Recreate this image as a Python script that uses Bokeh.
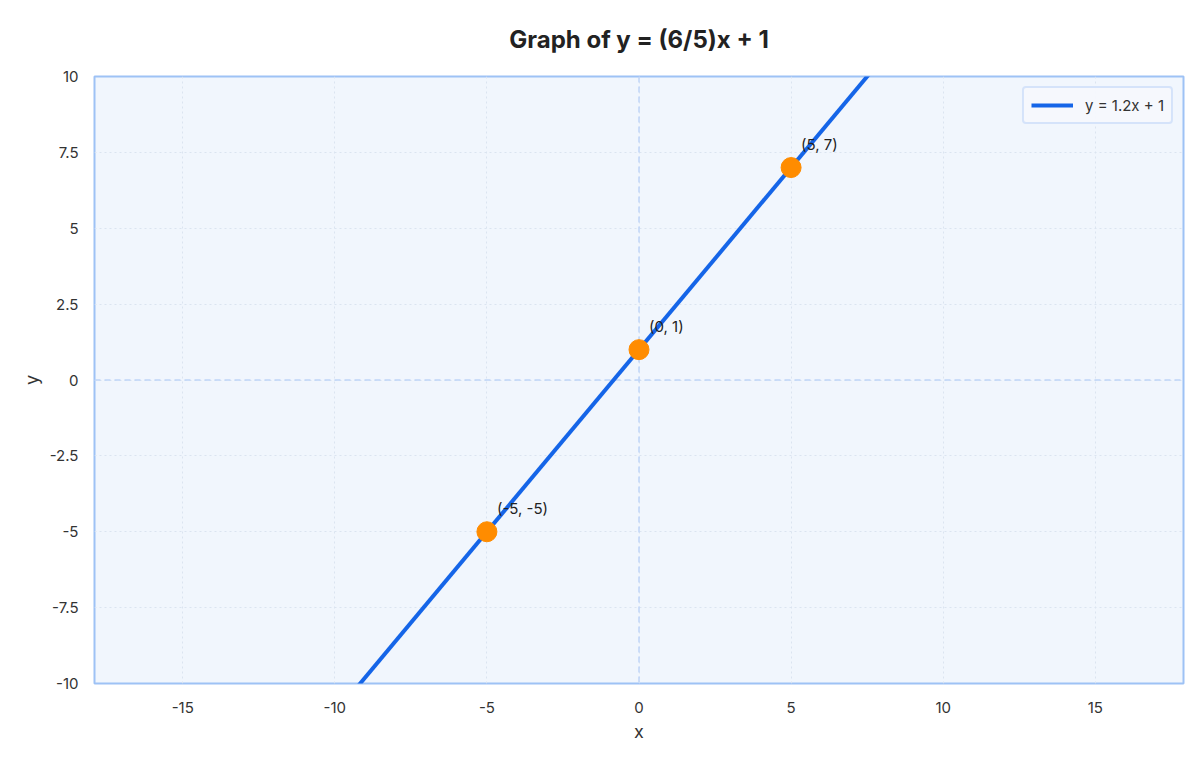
from bokeh.plotting import figure
from bokeh.models import FixedTicker, Range1d, Span, ColumnDataSource, Legend, LegendItem
from bokeh.core.properties import value
from bokeh.embed import file_html
from bokeh.resources import INLINE

title_text = "Graph of y = (6/5)x + 1"
line_label = "y = 1.2x + 1"
slope = 6 / 5
intercept = 1
line_x = [-18, 18]
line_y = [slope * v + intercept for v in line_x]
pt_x = [-5, 0, 5]
pt_y = [-5, 1, 7]
pt_labels = ["(-5, -5)", "(0, 1)", "(5, 7)"]
x_ticks = [-15, -10, -5, 0, 5, 10, 15]
x_tick_labels = ["-15", "-10", "-5", "0", "5", "10", "15"]
y_ticks = [-10, -7.5, -5, -2.5, 0, 2.5, 5, 7.5, 10]
y_tick_labels = ["-10", "-7.5", "-5", "-2.5", "0", "2.5", "5", "7.5", "10"]

FONT = "Inter"

p = figure(width=1200, height=760, output_backend="svg", toolbar_location=None,
           x_range=Range1d(-17.9, 17.9), y_range=Range1d(-10, 10),
           min_border_left=94, min_border_right=17, min_border_top=75, min_border_bottom=77)

p.title.text = title_text
p.title.align = "center"
p.title.text_font = FONT
p.title.text_font_size = "24px"
p.title.text_font_style = "bold"
p.title.text_color = "#222222"
p.title.offset = 0
p.title.standoff = 45

p.background_fill_color = "#f1f6fd"
p.border_fill_color = "white"
p.outline_line_color = "#9ec2f5"
p.outline_line_width = 2

for ax in (p.xaxis[0], p.yaxis[0]):
    ax.axis_line_color = None
    ax.major_tick_line_color = None
    ax.minor_tick_line_color = None
    ax.major_label_text_font = FONT
    ax.major_label_text_font_size = "15px"
    ax.major_label_text_color = "#333333"
    ax.axis_label_text_font = FONT
    ax.axis_label_text_font_size = "18px"
    ax.axis_label_text_font_style = "normal"
    ax.axis_label_text_color = "#333333"

p.xaxis.ticker = FixedTicker(ticks=x_ticks)
p.xaxis.major_label_overrides = {t: l for t, l in zip(x_ticks, x_tick_labels)}
p.yaxis.ticker = FixedTicker(ticks=y_ticks)
p.yaxis.major_label_overrides = {t: l for t, l in zip(y_ticks, y_tick_labels)}
p.xaxis.axis_label = "x"
p.yaxis.axis_label = "y"
p.xaxis.major_label_standoff = 12
p.yaxis.major_label_standoff = 10

for g in (p.xgrid[0], p.ygrid[0]):
    g.grid_line_color = "#dbe4f0"
    g.grid_line_dash = "2 3"
    g.grid_line_width = 1

p.add_layout(Span(location=0, dimension="width", line_color="#bfd5f7", line_dash="6 4",
                  line_width=1.5, level="underlay"))
p.add_layout(Span(location=0, dimension="height", line_color="#bfd5f7", line_dash="6 4",
                  line_width=1.5, level="underlay"))

r_line = p.line(line_x, line_y, line_color="#1565e8", line_width=4)

src = ColumnDataSource(dict(x=pt_x, y=pt_y, lab=pt_labels))
p.scatter("x", "y", source=src, size=20, fill_color="#ff8c00", line_color="#ff8c00")
p.text("x", "y", text="lab", source=src, x_offset=10, y_offset=-14,
       text_font=value(FONT), text_font_size="15px", text_color="#222222",
       text_baseline="bottom")

legend = Legend(items=[LegendItem(label=line_label, renderers=[r_line])], location="top_right")
legend.label_text_font = FONT
legend.label_text_font_size = "15px"
legend.label_text_color = "#333333"
legend.border_line_color = "#b5cff7"
legend.border_line_width = 2
legend.border_radius = 4
legend.background_fill_color = "#f5f8fd"
legend.glyph_width = 42
legend.label_standoff = 12
legend.margin = 10
legend.padding = 7
p.add_layout(legend)

open("out.html", "w").write(file_html(p, INLINE))
